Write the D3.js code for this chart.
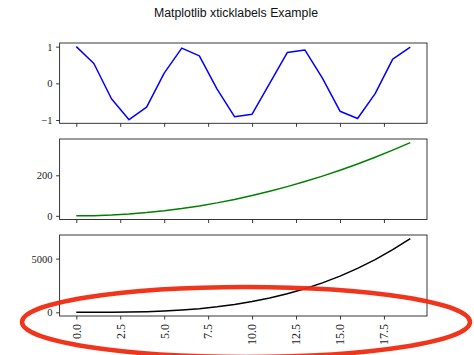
<!DOCTYPE html>
<html><head><meta charset="utf-8">
<script src="https://cdn.jsdelivr.net/npm/d3@7"></script>
<style>body{margin:0;background:#fff}svg{display:block}</style>
</head><body>
<script>
const xs = [0,1,2,3,4,5,6,7,8,9,10,11,12,13,14,15,16,17,18,19];
const cosVals = [1.0,0.54,-0.42,-0.99,-0.65,0.28,0.96,0.75,-0.15,-0.91,-0.84,0.0,0.84,0.91,0.14,-0.76,-0.96,-0.28,0.66,0.99];
const sqVals = [0,1,4,9,16,25,36,49,64,81,100,121,144,169,196,225,256,289,324,361];
const cubeVals = [0,1,8,27,64,125,216,343,512,729,1000,1331,1728,2197,2744,3375,4096,4913,5832,6859];
const xTicks = [0,2.5,5,7.5,10,12.5,15,17.5];
const xTickLabels = ["0.0","2.5","5.0","7.5","10.0","12.5","15.0","17.5"];
const yTicks1 = [-1,0,1], yTickLabels1 = ["\u22121","0","1"];
const yTicks2 = [0,200], yTickLabels2 = ["0","200"];
const yTicks3 = [0,5000], yTickLabels3 = ["0","5000"];
const title = "Matplotlib xticklabels Example";

const W = 474, H = 355;
const svg = d3.select("body").append("svg").attr("width", W).attr("height", H);
const left = 59.6, right = 427;
const x = d3.scaleLinear().domain([-0.95, 19.95]).range([left, right]);

svg.append("text").attr("x", 236).attr("y", 17).attr("text-anchor", "middle")
  .attr("font-family", "Liberation Sans, Arial, sans-serif").attr("font-size", 12.3)
  .attr("fill", "#111").text(title);

const serif = "Liberation Serif, Times New Roman, serif";

function panel(top, bottom, vals, color, yt, ytl, showX) {
  const mn = d3.min(vals), mx = d3.max(vals), m = (mx - mn) * 0.05;
  const y = d3.scaleLinear().domain([mn - m, mx + m]).range([bottom, top]);
  const g = svg.append("g");
  const line = d3.line().x((d, i) => x(xs[i])).y(d => y(d));
  g.append("path").datum(vals).attr("d", line).attr("fill", "none")
    .attr("stroke", color).attr("stroke-width", 1.5).attr("stroke-linejoin", "round");
  g.append("rect").attr("x", left).attr("y", top).attr("width", right - left)
    .attr("height", bottom - top).attr("fill", "none").attr("stroke", "#222").attr("stroke-width", 0.9);
  const ya = d3.axisLeft(y).tickValues(yt).tickFormat((d, i) => ytl[i]).tickSize(3.5).tickPadding(3.5);
  const yg = g.append("g").attr("transform", `translate(${left},0)`).call(ya);
  yg.select(".domain").remove();
  yg.selectAll("line").attr("stroke", "#222").attr("stroke-width", 0.9);
  yg.selectAll("text").attr("font-family", serif).attr("font-size", 10.5).attr("fill", "#222");
  const xa = d3.axisBottom(x).tickValues(xTicks).tickFormat((d, i) => showX ? xTickLabels[i] : "").tickSize(3.5).tickPadding(3.5);
  const xg = g.append("g").attr("transform", `translate(0,${bottom})`).call(xa);
  xg.select(".domain").remove();
  xg.selectAll("line").attr("stroke", "#222").attr("stroke-width", 0.9);
  if (showX) {
    xg.selectAll("text").attr("font-family", serif).attr("font-size", 12).attr("fill", "#222")
      .attr("transform", "rotate(-90)").attr("text-anchor", "end")
      .attr("x", -8).attr("y", 0).attr("dy", "0.32em");
  }
}
panel(43, 123.3, cosVals, "#0000ff", yTicks1, yTickLabels1, false);
panel(139, 219.5, sqVals, "#008000", yTicks2, yTickLabels2, false);
panel(235, 316, cubeVals, "#000000", yTicks3, yTickLabels3, true);

// hand-drawn highlight ellipse
svg.append("ellipse").attr("cx", 246).attr("cy", 322).attr("rx", 224).attr("ry", 35)
  .attr("fill", "none").attr("stroke", "#f02a10").attr("stroke-width", 4.5).attr("opacity", 0.95);
</script>
</body></html>
